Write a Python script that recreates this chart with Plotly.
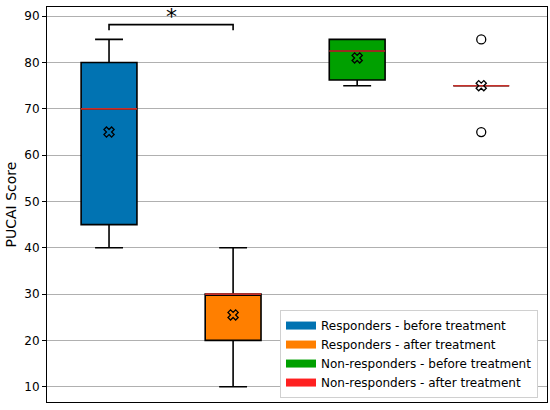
import plotly.graph_objects as go

# box statistics
groups = ["Responders - before treatment", "Responders - after treatment",
          "Non-responders - before treatment", "Non-responders - after treatment"]
positions = [1, 2, 3, 4]
q1 = [45, 20, 76.25, 75]
median = [70, 30, 82.5, 75]
q3 = [80, 30, 85, 75]
lower = [40, 10, 75, 75]
upper = [85, 40, 85, 75]
means = [65, 25.5, 81, 75]
outlier_x = [4, 4]
outlier_y = [85, 65]
colors = ["#0173B2", "#FF7F00", "#00A000", "#FF2020"]

# significance bracket between groups 1 and 2
sig_pair = [1, 2]
sig_y = 88.2
sig_drop = 1.2
sig_label = "*"

box_w = 0.45


def main():
    fig = go.Figure()

    #Draw boxes
    for i in range(4):
        fig.add_trace(go.Box(x=[positions[i]], q1=[q1[i]], median=[median[i]], q3=[q3[i]],
                             lowerfence=[lower[i]], upperfence=[upper[i]],
                             width=box_w, whiskerwidth=0.5,
                             fillcolor=colors[i], line=dict(color="black", width=1.6),
                             boxpoints=False, showlegend=False, hoverinfo="skip"))

    #Red median lines
    mx, my = [], []
    for p, m in zip(positions, median):
        mx += [p - box_w / 2, p + box_w / 2, None]
        my += [m, m, None]
    fig.add_trace(go.Scatter(x=mx, y=my, mode="lines", line=dict(color="#C8302A", width=1.6),
                             showlegend=False, hoverinfo="skip"))

    #Means
    fig.add_trace(go.Scatter(x=positions, y=means, mode="markers",
                             marker=dict(symbol="x-open", size=9, color="black",
                                         line=dict(color="black", width=1.3)),
                             showlegend=False, hoverinfo="skip"))

    #Outliers
    fig.add_trace(go.Scatter(x=outlier_x, y=outlier_y, mode="markers",
                             marker=dict(symbol="circle-open", size=9, color="black",
                                         line=dict(color="black", width=1.3)),
                             showlegend=False, hoverinfo="skip"))

    #Bracket
    a, b = sig_pair
    fig.add_trace(go.Scatter(x=[a, a, b, b], y=[sig_y - sig_drop, sig_y, sig_y, sig_y - sig_drop],
                             mode="lines", line=dict(color="black", width=1.6),
                             showlegend=False, hoverinfo="skip"))
    fig.add_annotation(x=(a + b) / 2, y=sig_y, text=sig_label, showarrow=False,
                       yanchor="bottom", yshift=-6, font=dict(size=22, color="black"))

    #Legend entries
    for g, c in zip(groups, colors):
        fig.add_trace(go.Scatter(x=[None], y=[None], mode="lines", name=g,
                                 line=dict(color=c, width=8)))

    fig.update_layout(width=550, height=410, margin=dict(l=47, r=3, t=7, b=8),
                      paper_bgcolor="white", plot_bgcolor="white",
                      font=dict(family="DejaVu Sans", size=12, color="black"),
                      legend=dict(x=0.466, y=0.01, xanchor="left", yanchor="bottom",
                                  bgcolor="white", bordercolor="#d0d0d0", borderwidth=1,
                                  font=dict(size=12), tracegroupgap=0, itemwidth=30))
    fig.update_xaxes(range=[0.5, 4.53], showticklabels=False, ticks="", showgrid=False,
                     zeroline=False, showline=True, linecolor="black", linewidth=1, mirror=True)
    fig.update_yaxes(range=[6.7, 92], dtick=10, tick0=0, ticks="outside", ticklen=4,
                     tickcolor="black", showgrid=True, gridcolor="#b0b0b0", gridwidth=1,
                     zeroline=False, showline=True, linecolor="black", linewidth=1, mirror=True,
                     automargin=False, title=dict(text="PUCAI Score", standoff=4))

    # drop the default page margin so the figure fills the window
    fig.write_html("out.html", config={"displayModeBar": False},
                   post_script="document.body.style.margin='0';")


if __name__ == '__main__':
    main()
